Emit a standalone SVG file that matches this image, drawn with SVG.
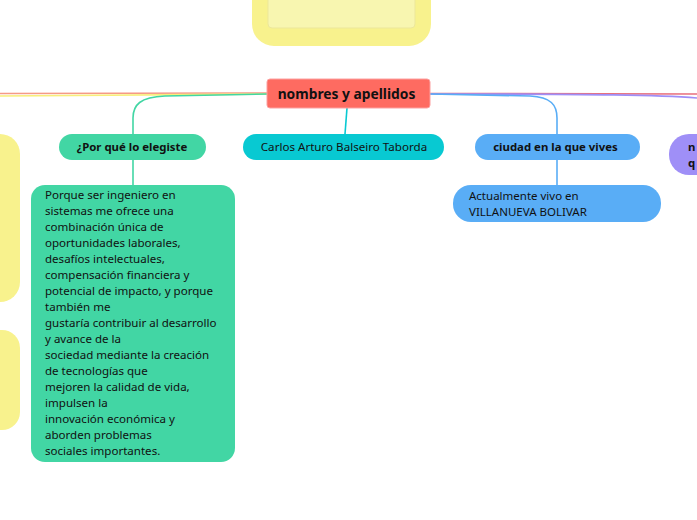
<svg xmlns="http://www.w3.org/2000/svg" width="697" height="520" viewBox="0 0 697 520">
<style>
text{font-family:"Noto Sans","Open Sans","DejaVu Sans",sans-serif;fill:#111;}
.b{font-weight:bold;}
.c{fill:none;stroke-width:1.6;}
</style>
<rect width="697" height="520" fill="#fff"/>
<g id="connectors">
<path class="c" d="M0,93.5 L267,93" stroke="#f59a86" stroke-width="2"/>
<path class="c" d="M0,96 C100,95.5 200,94.5 267,94" stroke="#f8ee7a" stroke-width="2"/>
<path class="c" d="M430,93.5 L697,94" stroke="#e8707e" stroke-width="2"/>
<path class="c" d="M430,94 C600,94 660,95 697,98" stroke="#9f8ff7" stroke-width="1.6"/>
<path class="c" d="M267,94 L165,96 C140,97 133,105 133,118 L133,134" stroke="#42d6a4"/>
<path class="c" d="M347,108 L345,134" stroke="#08c9d2"/>
<path class="c" d="M430,94 L530,96 C551,97 557,105 557,118 L557,134" stroke="#59adf6"/>
<path class="c" d="M133,160 L133,185" stroke="#42d6a4"/>
<path class="c" d="M557,160 L557,185" stroke="#59adf6"/>
</g>
<g id="top-box">
<rect x="252" y="-30" width="179" height="76" rx="22" fill="#f8f28d"/>
<rect x="268" y="-20" width="147" height="48" rx="4" fill="#f8f6b0" stroke="#ece79a" stroke-width="1"/>
</g>
<g id="left-box-1"><rect x="-30" y="134" width="50" height="168" rx="20" fill="#f8f28d"/></g>
<g id="left-box-2"><rect x="-30" y="330" width="50" height="100" rx="18" fill="#f8f28d"/></g>
<g id="root">
<rect x="267" y="79" width="163" height="29" rx="3" fill="#fe6b61" stroke="#fca0a0" stroke-width="1"/>
<text class="b" x="346.5" y="99" text-anchor="middle" font-size="13.8px">nombres y apellidos</text>
</g>
<g id="por-que">
<rect x="59" y="134" width="147" height="26" rx="13" fill="#42d6a4"/>
<text class="b" x="132" y="151" text-anchor="middle" font-size="11.4px">¿Por qué lo elegiste</text>
</g>
<g id="nombre">
<rect x="243" y="134" width="201" height="26" rx="13" fill="#08c9d2"/>
<text x="344" y="151" text-anchor="middle" font-size="11.6px">Carlos Arturo Balseiro Taborda</text>
</g>
<g id="ciudad">
<rect x="475" y="134" width="165" height="26" rx="13" fill="#59adf6"/>
<text class="b" x="555.5" y="151" text-anchor="middle" font-size="11.4px">ciudad en la que vives</text>
</g>
<g id="purple">
<rect x="669" y="134" width="60" height="41" rx="20" fill="#9f8ff7"/>
<text class="b" x="688" y="151" font-size="11.4px">n</text>
<text class="b" x="688" y="167" font-size="11.4px">q</text>
</g>
<g id="razon">
<rect x="31" y="185" width="204" height="277" rx="14" fill="#42d6a4"/>
<text font-size="11.55px">
<tspan x="45" y="199">Porque ser ingeniero en</tspan>
<tspan x="45" y="215">sistemas me ofrece una</tspan>
<tspan x="45" y="231">combinación única de</tspan>
<tspan x="45" y="247">oportunidades laborales,</tspan>
<tspan x="45" y="263">desafíos intelectuales,</tspan>
<tspan x="45" y="279">compensación financiera y</tspan>
<tspan x="45" y="295">potencial de impacto, y porque</tspan>
<tspan x="45" y="311">también me</tspan>
<tspan x="45" y="327">gustaría contribuir al desarrollo</tspan>
<tspan x="45" y="343">y avance de la</tspan>
<tspan x="45" y="359">sociedad mediante la creación</tspan>
<tspan x="45" y="375">de tecnologías que</tspan>
<tspan x="45" y="391">mejoren la calidad de vida,</tspan>
<tspan x="45" y="407">impulsen la</tspan>
<tspan x="45" y="423">innovación económica y</tspan>
<tspan x="45" y="439">aborden problemas</tspan>
<tspan x="45" y="455">sociales importantes.</tspan>
</text>
</g>
<g id="vivo">
<rect x="453" y="185" width="208" height="37" rx="18" fill="#59adf6"/>
<text font-size="11.5px"><tspan x="469" y="200">Actualmente vivo en</tspan><tspan x="469" y="215.5">VILLANUEVA BOLIVAR</tspan></text>
</g>
</svg>
